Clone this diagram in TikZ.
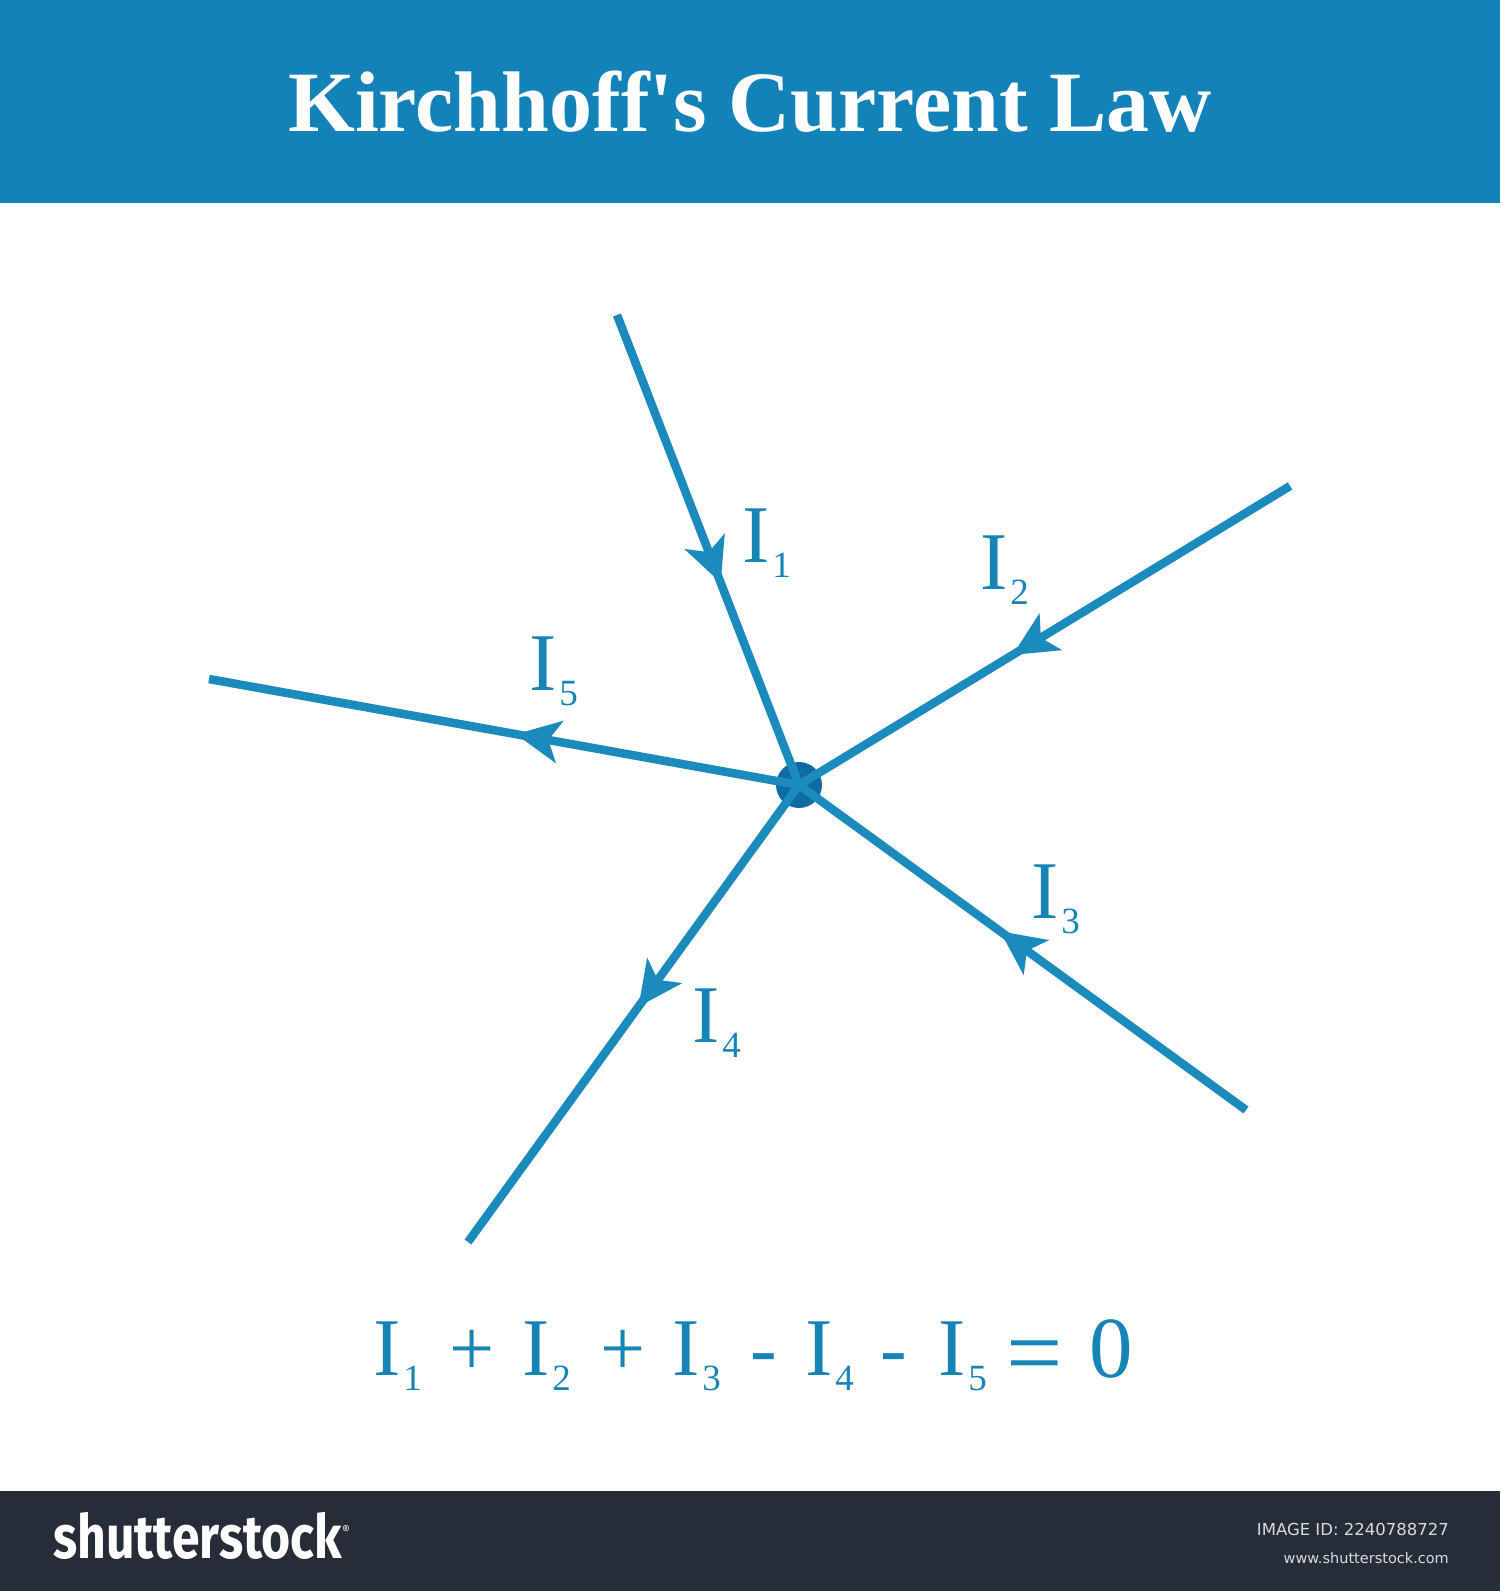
\documentclass[tikz,border=0pt]{standalone}
\usepackage{fontspec}
\setmainfont{Liberation Serif}
\newfontfamily\logofont{Fira Sans}
\newfontfamily\idfont{DejaVu Sans}
\usetikzlibrary{arrows.meta,decorations.markings}
\definecolor{barblue}{RGB}{18,130,185}
\definecolor{wire}{RGB}{27,138,188}
\definecolor{ink}{RGB}{22,132,182}
\definecolor{dotblue}{RGB}{14,108,162}
\definecolor{footer}{RGB}{39,45,56}
\definecolor{idgray}{RGB}{215,218,222}
\newcommand\curr[1]{{\fontsize{82}{82}\selectfont I}\kern3pt\raisebox{-15pt}{\fontsize{37}{37}\selectfont #1}}
\tikzset{
  wirestyle/.style={draw=wire, line width=8.5pt},
  flowat/.style={postaction={decorate}, decoration={markings,
      mark=at position #1 with {\arrow[wire]{Stealth[length=44pt,width=42pt,inset=11pt]}}}},
  lab/.style={text=ink, inner sep=0pt, outer sep=0pt},
  eqsym/.style={text=ink, inner sep=0pt, outer sep=0pt, anchor=base, font=\fontsize{80}{80}\selectfont},
}
\begin{document}
\begin{tikzpicture}[x=1pt,y=-1pt]
\useasboundingbox (0,0) rectangle (1500,1591);
\fill[white] (0,0) rectangle (1500,1591);
% header
\fill[barblue] (0,0) rectangle (1500,203);
\node[text=white, inner sep=0pt, anchor=base, font=\fontsize{86}{86}\selectfont\bfseries] (title) at (750,131) {Kirchhoff\textquotesingle s Current Law};
% junction
\node[circle, fill=dotblue, minimum size=46pt, inner sep=0pt] (j) at (799,785) {};
\coordinate (e1) at (617,315);
\coordinate (e2) at (1290,486);
\coordinate (e3) at (1246,1110);
\coordinate (e4) at (468,1242);
\coordinate (e5) at (209,679);
\draw[wirestyle, flowat=0.57] (e1) -- (j.center);
\draw[wirestyle, flowat=0.565] (e2) -- (j.center);
\draw[wirestyle, flowat=0.55] (e3) -- (j.center);
\draw[wirestyle, flowat=0.485] (j.center) -- (e4);
\draw[wirestyle, flowat=0.48] (j.center) -- (e5);
% labels
\node[lab, anchor=base west] (l1) at (742,562) {\curr{1}};
\node[lab, anchor=base west] (l2) at (980,589) {\curr{2}};
\node[lab, anchor=base west] (l3) at (1031,918) {\curr{3}};
\node[lab, anchor=base west] (l4) at (692,1042) {\curr{4}};
\node[lab, anchor=base west] (l5) at (529,690) {\curr{5}};
% equation
\node[lab, anchor=base west] (q1) at (373,1375) {\curr{1}};
\node[eqsym] (p1) at (472,1375) {+};
\node[lab, anchor=base west] (q2) at (522,1375) {\curr{2}};
\node[eqsym] (p2) at (623,1375) {+};
\node[lab, anchor=base west] (q3) at (672,1375) {\curr{3}};
\node[eqsym] (m1) at (764,1375) {-};
\node[lab, anchor=base west] (q4) at (805,1375) {\curr{4}};
\node[eqsym] (m2) at (894,1375) {-};
\node[lab, anchor=base west] (q5) at (938,1375) {\curr{5}};
\node[eqsym, font=\fontsize{100}{100}\selectfont] (eq) at (1035,1386) {=};
\node[lab, anchor=base west, font=\fontsize{87}{87}\selectfont] (zero) at (1089,1377) {0};
% footer
\fill[footer] (0,1491) rectangle (1500,1591);
\node[text=white, inner sep=0pt, anchor=base west] (logo) at (53,1558)
  {\scalebox{0.86}[1.05]{\logofont\bfseries\fontsize{58}{58}\selectfont shutterstock}\raisebox{24pt}{\logofont\fontsize{12}{12}\selectfont ®}};
\node[text=idgray, inner sep=0pt, anchor=base east] (imgid) at (1449,1535)
  {\idfont\fontsize{16.5}{16.5}\selectfont IMAGE ID: 2240788727};
\node[text=idgray, inner sep=0pt, anchor=base east] (www) at (1449,1563)
  {\idfont\fontsize{14.5}{14.5}\selectfont www.shutterstock.com};
\end{tikzpicture}
\end{document}
